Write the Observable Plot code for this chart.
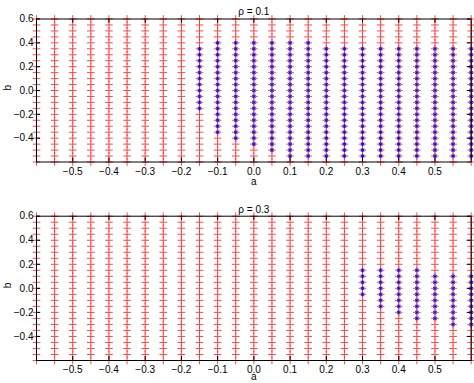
<!DOCTYPE html>
<html><head><meta charset="utf-8">
<script src="https://cdn.jsdelivr.net/npm/d3@7"></script>
<script src="https://cdn.jsdelivr.net/npm/@observablehq/plot@0.6"></script>
<style>body{margin:0;background:#fff} #chart svg{display:block}</style>
</head><body><div id="chart"></div>
<script>
// grid of tested (a, b) pairs
const aGrid = [-0.6,-0.55,-0.5,-0.45,-0.4,-0.35,-0.3,-0.25,-0.2,-0.15,-0.1,-0.05,0,0.05,0.1,0.15,0.2,0.25,0.3,0.35,0.4,0.45,0.5,0.55,0.6];
const bGrid = [-0.6,-0.55,-0.5,-0.45,-0.4,-0.35,-0.3,-0.25,-0.2,-0.15,-0.1,-0.05,0,0.05,0.1,0.15,0.2,0.25,0.3,0.35,0.4,0.45,0.5,0.55,0.6];
const xTicks = [-0.5,-0.4,-0.3,-0.2,-0.1,0,0.1,0.2,0.3,0.4,0.5];
const yTicks = [-0.4,-0.2,0,0.2,0.4,0.6];

// panel 1: rho = 0.1 (blue region per column: a, lowest b, highest b)
const title1 = "ρ = 0.1";
const blueA1  = [-0.15,-0.1,-0.05,0,0.05,0.1,0.15,0.2,0.25,0.3,0.35,0.4,0.45,0.5,0.55,0.6];
const blueLo1 = [-0.15,-0.35,-0.4,-0.45,-0.5,-0.55,-0.55,-0.55,-0.55,-0.55,-0.55,-0.55,-0.55,-0.55,-0.55,-0.55];
const blueHi1 = [0.35,0.4,0.4,0.4,0.4,0.4,0.4,0.35,0.35,0.35,0.35,0.35,0.35,0.35,0.35,0.35];

// panel 2: rho = 0.3
const title2 = "ρ = 0.3";
const blueA2  = [0.3,0.35,0.4,0.45,0.5,0.55,0.6];
const blueLo2 = [-0.05,-0.15,-0.2,-0.25,-0.25,-0.3,-0.3];
const blueHi2 = [0.15,0.15,0.15,0.15,0.1,0.1,0.1];

const W = 474, ML = 36, MR = 3.3;

function panel({title, blueA, blueLo, blueHi, height, marginTop, marginBottom, titleDy, labelDy}) {
  const grid = aGrid.flatMap(a => bGrid.map(b => ({a, b})));
  const blue = grid.filter(d => {
    const i = blueA.findIndex(v => Math.abs(v - d.a) < 1e-9);
    return i >= 0 && d.b >= blueLo[i] - 1e-9 && d.b <= blueHi[i] + 1e-9;
  });
  const fh = height - marginTop - marginBottom;
  const fw = W - ML - MR;
  const tl = 4;
  return Plot.plot({
    width: W, height, marginTop, marginBottom, marginLeft: ML, marginRight: MR,
    x: {domain: [-0.6, 0.6]},
    y: {domain: [-0.6, 0.6]},
    style: {fontFamily: "'Liberation Sans', Arial, sans-serif", fontSize: "10px", background: "white", color: "black"},
    marks: [
      Plot.dot(grid, {x: "a", y: "b", symbol: "plus", r: 2.6, stroke: "#ff2a2a", strokeWidth: 0.85}),
      Plot.dot(blue, {x: "a", y: "b", symbol: "square", r: 2.1, fill: "#a58cf0", stroke: "none"}),
      Plot.dot(blue, {x: "a", y: "b", symbol: "asterisk", r: 1.8, stroke: "#1a10c8", strokeWidth: 1}),
      Plot.frame({stroke: "black", strokeWidth: 1}),
      Plot.tickX(xTicks, {x: d => d, insetTop: fh - tl, stroke: "black"}),
      Plot.tickX(xTicks, {x: d => d, insetBottom: fh - tl, stroke: "black"}),
      Plot.tickY(yTicks, {y: d => d, insetRight: fw - tl, stroke: "black"}),
      Plot.tickY(yTicks, {y: d => d, insetLeft: fw - tl, stroke: "black"}),
      Plot.axisX(xTicks, {anchor: "bottom", tickSize: 0, tickPadding: 5.5, label: null}),
      Plot.axisY(yTicks, {anchor: "left", tickSize: 0, tickPadding: 3, label: null}),
      Plot.text([title], {text: d => d, frameAnchor: "top", dy: titleDy, fontSize: 10}),
      Plot.text(["a"], {text: d => d, frameAnchor: "bottom", dy: labelDy, fontSize: 10}),
      Plot.text(["b"], {text: d => d, frameAnchor: "left", dx: -29, rotate: -90, fontSize: 10})
    ]
  });
}

const root = document.getElementById("chart");
root.append(panel({title: title1, blueA: blueA1, blueLo: blueLo1, blueHi: blueHi1,
  height: 191, marginTop: 18.5, marginBottom: 29.5, titleDy: -11, labelDy: 23}));
root.append(panel({title: title2, blueA: blueA2, blueLo: blueLo2, blueHi: blueHi2,
  height: 192, marginTop: 24.7, marginBottom: 23, titleDy: -10.5, labelDy: 19}));
</script>
</body></html>
